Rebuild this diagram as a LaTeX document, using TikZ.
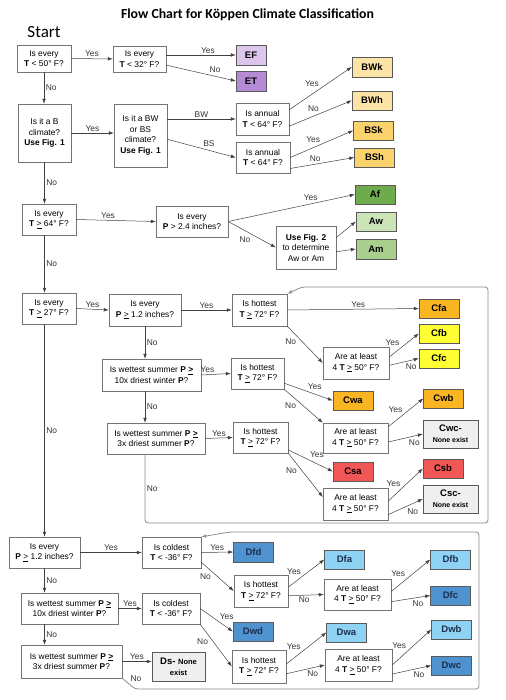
\documentclass[tikz,border=0pt]{standalone}
\usepackage{fontspec}
\setmainfont{Liberation Sans}
\newfontfamily\titlefont{Carlito}
\usetikzlibrary{arrows.meta}

\definecolor{efcol}{HTML}{DCC6EC}
\definecolor{etcol}{HTML}{B68BD6}
\definecolor{bwcol}{HTML}{FCE3A6}
\definecolor{bscol}{HTML}{FBD36C}
\definecolor{afcol}{HTML}{6EAB4C}
\definecolor{awcol}{HTML}{CBE5B8}
\definecolor{amcol}{HTML}{A8D08C}
\definecolor{orcol}{HTML}{F9B622}
\definecolor{yecol}{HTML}{FFFF33}
\definecolor{recol}{HTML}{F25757}
\definecolor{nocol}{HTML}{EFEFEF}
\definecolor{dkcol}{HTML}{4E92CF}
\definecolor{ltcol}{HTML}{8FD3F4}
\definecolor{navy}{HTML}{1C2E4D}

\begin{document}
\begin{tikzpicture}[x=1pt, y=-1pt, auto, >={Latex[length=5pt,width=3.6pt]},
        qbox/.style={rectangle, draw=black!55, fill=white, align=center, inner sep=1pt, font=\fontsize{8.4}{10.5}\selectfont},
        rbox/.style={rectangle, draw=black!65, minimum width=40pt, minimum height=19.5pt, inner sep=1pt, align=center, font=\bfseries\fontsize{9.5}{11}\selectfont},
        dbox/.style={rbox, text=navy},
        link/.style={->, draw=black!75, line width=0.5pt},
        loopline/.style={link, draw=black!45, line width=0.8pt, rounded corners=3pt},
        lbl/.style={font=\fontsize{8.4}{10}\selectfont, text=black!80, inner sep=1.5pt}]
        \useasboundingbox (0,0) rectangle (505,700);

        \node (title) at (247.5,15) {\titlefont\bfseries\fontsize{13.8}{16}\selectfont Flow Chart for Köppen Climate Classification};
        \node (start) at (44,32) {\titlefont\fontsize{17}{19}\selectfont Start};

        \node [qbox, minimum width=54pt, minimum height=27pt] (t50) at (44,58.5) {Is every\\\textbf{T} < 50° F?};
        \node [qbox, minimum width=53pt, minimum height=26pt] (t32) at (139.5,59) {Is every\\\textbf{T} < 32° F?};
        \node [rbox, fill=efcol, minimum width=30pt] (ef) at (251,55) {EF};
        \node [rbox, fill=etcol, minimum width=30pt] (et) at (251,81) {ET};

        \node [qbox, minimum width=53pt, minimum height=58pt] (bclim) at (44.5,133) {Is it a B\\climate?\\\textbf{Use Fig. 1}};
        \node [qbox, minimum width=53pt, minimum height=63pt] (bwbs) at (140.5,135.5) {Is it a BW\\or BS\\climate?\\\textbf{Use Fig. 1}};
        \node [qbox, minimum width=53pt, minimum height=32pt] (bwann) at (262.5,119) {Is annual\\\textbf{T} < 64° F?};
        \node [qbox, minimum width=54pt, minimum height=31pt] (bsann) at (263,157.5) {Is annual\\\textbf{T} < 64° F?};
        \node [rbox, fill=bwcol] (bwk) at (372,67) {BWk};
        \node [rbox, fill=bwcol] (bwh) at (372,100.5) {BWh};
        \node [rbox, fill=bscol] (bsk) at (373.5,130.5) {BSk};
        \node [rbox, fill=bscol] (bsh) at (374.5,157.5) {BSh};

        \node [qbox, minimum width=54pt, minimum height=31pt] (t64) at (49,219.5) {Is every\\\textbf{T} \underline{>} 64° F?};
        \node [qbox, minimum width=72pt, minimum height=31pt] (p24) at (192,221.5) {Is every\\\textbf{P} > 2.4 inches?};
        \node [qbox, minimum width=60pt, minimum height=43pt] (fig2) at (306,247.5) {\textbf{Use Fig. 2}\\to determine\\Aw or Am};
        \node [rbox, fill=afcol] (af) at (375,194.5) {Af};
        \node [rbox, fill=awcol] (aw) at (376,221.5) {Aw};
        \node [rbox, fill=amcol] (am) at (376,249) {Am};

        \node [qbox, minimum width=54pt, minimum height=31pt] (t27) at (49,308.5) {Is every\\\textbf{T} \underline{>} 27° F?};
        \node [qbox, minimum width=72pt, minimum height=32pt] (cp12) at (145,310) {Is every\\\textbf{P} \underline{>} 1.2 inches?};
        \node [qbox, minimum width=55pt, minimum height=32pt] (chot1) at (259.5,310) {Is hottest\\\textbf{T} \underline{>} 72° F?};
        \node [qbox, minimum width=66pt, minimum height=32pt] (cleast1) at (356,363) {Are at least\\4 \textbf{T} \underline{>} 50° F?};
        \node [rbox, fill=orcol] (cfa) at (439,308.5) {Cfa};
        \node [rbox, fill=yecol] (cfb) at (439,333.5) {Cfb};
        \node [rbox, fill=yecol] (cfc) at (439,358.5) {Cfc};

        \node [qbox, minimum width=99pt, minimum height=32pt] (cwet10) at (151.5,375) {Is wettest summer \textbf{P \underline{>}}\\10x driest winter \textbf{P}?};
        \node [qbox, minimum width=53pt, minimum height=31pt] (chot2) at (257.5,373.5) {Is hottest\\\textbf{T} \underline{>} 72° F?};
        \node [qbox, minimum width=65pt, minimum height=30pt] (cleast2) at (355.5,438) {Are at least\\4 \textbf{T} \underline{>} 50° F?};
        \node [rbox, fill=orcol] (cwa) at (353,400.5) {Cwa};
        \node [rbox, fill=orcol] (cwb) at (443.5,398.5) {Cwb};
        \node [rbox, fill=nocol, minimum width=55pt, minimum height=28pt] (cwc) at (450.5,434) {Cwc-\\{\fontsize{7}{8}\selectfont None exist}};

        \node [qbox, minimum width=98pt, minimum height=31pt] (cwet3) at (156,438.5) {Is wettest summer \textbf{P \underline{>}}\\3x driest summer \textbf{P}?};
        \node [qbox, minimum width=55pt, minimum height=31pt] (chot3) at (260.5,437.5) {Is hottest\\\textbf{T} \underline{>} 72° F?};
        \node [qbox, minimum width=65pt, minimum height=32pt] (cleast3) at (355.5,504) {Are at least\\4 \textbf{T} \underline{>} 50° F?};
        \node [rbox, fill=recol] (csa) at (353,471.5) {Csa};
        \node [rbox, fill=recol] (csb) at (443,468.5) {Csb};
        \node [rbox, fill=nocol, minimum width=55pt, minimum height=28pt] (csc) at (450.5,499) {Csc-\\{\fontsize{7}{8}\selectfont None exist}};

        \node [qbox, minimum width=71pt, minimum height=31pt] (dp12) at (44.5,552.5) {Is every\\\textbf{P} \underline{>} 1.2 inches?};
        \node [qbox, minimum width=59pt, minimum height=31pt] (dcold1) at (171.5,552.5) {Is coldest\\\textbf{T} < -36° F?};
        \node [qbox, minimum width=54pt, minimum height=32pt] (dhot1) at (261,591) {Is hottest\\\textbf{T} \underline{>} 72° F?};
        \node [qbox, minimum width=67pt, minimum height=31pt] (dleast1) at (357.5,594.5) {Are at least\\4 \textbf{T} \underline{>} 50° F?};
        \node [dbox, fill=dkcol] (dfd) at (253.5,552) {Dfd};
        \node [dbox, fill=ltcol] (dfa) at (344.5,559.5) {Dfa};
        \node [dbox, fill=ltcol] (dfb) at (450.5,559.5) {Dfb};
        \node [dbox, fill=dkcol] (dfc) at (450.5,595.5) {Dfc};

        \node [qbox, minimum width=97pt, minimum height=31pt] (dwet10) at (69.5,608.5) {Is wettest summer \textbf{P \underline{>}}\\10x driest winter \textbf{P}?};
        \node [qbox, minimum width=58pt, minimum height=31pt] (dcold2) at (171,608.5) {Is coldest\\\textbf{T} < -36° F?};
        \node [qbox, minimum width=54pt, minimum height=33pt] (dhot2) at (259,666.5) {Is hottest\\\textbf{T} \underline{>} 72° F?};
        \node [qbox, minimum width=67pt, minimum height=32pt] (dleast2) at (358.5,665) {Are at least\\4 \textbf{T} \underline{>} 50° F?};
        \node [dbox, fill=dkcol] (dwd) at (253,631.5) {Dwd};
        \node [dbox, fill=ltcol] (dwa) at (346.5,632.5) {Dwa};
        \node [dbox, fill=ltcol] (dwb) at (451.5,629.5) {Dwb};
        \node [dbox, fill=dkcol] (dwc) at (451.5,665.5) {Dwc};

        \node [qbox, minimum width=101pt, minimum height=33pt] (dwet3) at (71.5,661.5) {Is wettest summer \textbf{P \underline{>}}\\3x driest summer \textbf{P}?};
        \node [rbox, fill=nocol, minimum width=53pt, minimum height=29pt] (ds) at (178.5,666.5) {Ds- {\fontsize{7.5}{9}\selectfont None}\\{\fontsize{7.5}{9}\selectfont exist}};

        \coordinate (cloop1) at (488,523);
        \coordinate (cloop2) at (488,287);
        \coordinate (cloop3) at (302,287);
        \coordinate (dloop1) at (135,689);
        \coordinate (dloop2) at (479,689);
        \coordinate (dloop3) at (479,532);
        \coordinate (dloop4) at (230,532);

        \draw [link] (t50) -- (t32) node[lbl, midway] {Yes};
        \draw [link] (t32.east |- ef.west) -- (ef.west) node[lbl, pos=0.6] {Yes};
        \draw [link] (t32.-13) -- (et.west) node[lbl, pos=0.6] {No};
        \draw [link] (t50.south) -- (t50.south |- bclim.north) node[lbl, midway] {No};
        \draw [link] (bclim.east) -- (bclim.east -| bwbs.west) node[lbl, midway] {Yes};
        \draw [link] (bwbs.east |- bwann.west) -- (bwann.west) node[lbl, midway] {BW};
        \draw [link] (bwbs.-8) -- (bsann.west) node[lbl, midway] {BS};
        \draw [link] (bwann.19) -- (bwk.west) node[lbl, midway] {Yes};
        \draw [link] (bwann.-15) -- (bwh.west) node[lbl, midway] {No};
        \draw [link] (bsann.east) -- (bsk.west) node[lbl, midway] {Yes};
        \draw [link] (bsann.-22) -- (bsh.west) node[lbl, midway] {No};

        \draw [link] (bclim.south) -- (bclim.south |- t64.north) node[lbl, midway] {No};
        \draw [link] (t64.east) -- (p24.west) node[lbl, pos=0.4] {Yes};
        \draw [link] (p24.east) -- (af.west) node[lbl, pos=0.72] {Yes};
        \draw [link] (p24.east) -- (fig2.west) node[lbl, midway, swap] {No};
        \draw [link] (fig2.18) -- (aw.west);
        \draw [link] (fig2.-8) -- (am.west);

        \draw [link] (bclim.south |- t64.south) -- (bclim.south |- t27.north) node[lbl, midway] {No};
        \draw [link] (t27.east) -- (cp12.west) node[lbl, midway] {Yes};
        \draw [link] (cp12.east) -- (chot1.west) node[lbl, midway] {Yes};
        \draw [link] (chot1.east) -- (cfa.west) node[lbl, pos=0.54] {Yes};
        \draw [link] (chot1.south east) -- (cleast1.west) node[lbl, pos=0.3, swap] {No};
        \draw [link] (cleast1.10) -- (cfb.west) node[lbl, pos=0.4] {Yes};
        \draw [link] (cleast1.-4) -- (cfc.west) node[lbl, pos=0.5, swap] {No};
        \draw [link] (cp12.south) -- (cp12.south |- cwet10.north) node[lbl, midway] {No};
        \draw [link] (cwet10.east) -- (chot2.west) node[lbl, midway] {Yes};
        \draw [link] (chot2.-20) -- (cwa.west) node[lbl, pos=0.45] {Yes};
        \draw [link] (chot2.south east) -- (cleast2.north west) node[lbl, pos=0.35, swap] {No};
        \draw [link] (cleast2.19) -- (cwb.west) node[lbl, pos=0.45] {Yes};
        \draw [link] (cleast2.-7) -- (cwc.west) node[lbl, pos=0.55, swap] {No};
        \draw [link] (cp12.south |- cwet10.south) -- (cp12.south |- cwet3.north) node[lbl, midway] {No};
        \draw [link] (cwet3.east) -- (chot3.west) node[lbl, midway] {Yes};
        \draw [link] (chot3.-24) -- (csa.west) node[lbl, pos=0.45] {Yes};
        \draw [link] (chot3.south east) -- (cleast3.168) node[lbl, pos=0.3, swap] {No};
        \draw [link] (cleast3.5) -- (csb.west) node[lbl, pos=0.4] {Yes};
        \draw [link] (cleast3.-18) -- (csc.west) node[lbl, pos=0.5, swap] {No};
        \draw [loopline] (cp12.south |- cwet3.south) -- (cp12.south |- cloop1) node[lbl, midway] {No} -- (cloop1) -- (cloop2) -- (cloop3) -- (chot1.north east);

        \draw [link] (bclim.south |- t27.south) -- (bclim.south |- dp12.north) node[lbl, midway] {No};
        \draw [link] (dp12.east) -- (dcold1.west) node[lbl, midway] {Yes};
        \draw [link] (dcold1.east) -- (dfd.west) node[lbl, midway] {Yes};
        \draw [link] (dcold1.-18) -- (dhot1.west) node[lbl, pos=0.35, swap] {No};
        \draw [link] (dhot1.8) -- (dfa.west) node[lbl, pos=0.4] {Yes};
        \draw [link] (dhot1.-10) -- (dleast1.west) node[lbl, pos=0.45, swap] {No};
        \draw [link] (dleast1.5) -- (dfb.west) node[lbl, pos=0.4] {Yes};
        \draw [link] (dleast1.-12) -- (dfc.west) node[lbl, pos=0.5, swap] {No};
        \draw [link] (dp12.south) -- (dp12.south |- dwet10.north) node[lbl, midway] {No};
        \draw [link] (dwet10.east) -- (dcold2.west) node[lbl, midway] {Yes};
        \draw [link] (dcold2.east) -- (dwd.west) node[lbl, pos=0.55] {Yes};
        \draw [link] (dcold2.south east) -- (dhot2.west) node[lbl, pos=0.3, swap] {No};
        \draw [link] (dhot2.5) -- (dwa.west) node[lbl, pos=0.4] {Yes};
        \draw [link] (dhot2.-15) -- (dleast2.west) node[lbl, pos=0.5, swap] {No};
        \draw [link] (dleast2.east) -- (dwb.west) node[lbl, pos=0.4] {Yes};
        \draw [link] (dleast2.-15) -- (dwc.west) node[lbl, pos=0.5, swap] {No};
        \draw [link] (dp12.south |- dwet10.south) -- (dp12.south |- dwet3.north) node[lbl, midway] {No};
        \draw [link] (dwet3.east) -- (dwet3.east -| ds.west) node[lbl, midway] {Yes};
        \draw [loopline] (dwet3.south east) -- (dloop1) node[lbl, midway] {No} -- (dloop2) -- (dloop3) -- (dloop4) -- (dcold1.north east);
\end{tikzpicture}
\end{document}
